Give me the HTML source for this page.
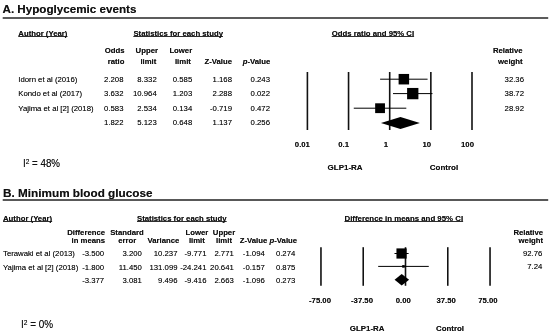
<!DOCTYPE html>
<html><head><meta charset="utf-8"><title>Forest plots</title>
<style>
html,body{margin:0;padding:0;background:#fff}
body{width:550px;height:335px;position:relative;overflow:hidden;font-family:"Liberation Sans",sans-serif;color:#111}
.t{position:absolute;white-space:nowrap;text-shadow:0 0 .6px rgba(0,0,0,.55)}
sup{font-size:68%;vertical-align:baseline;position:relative;top:-0.45em}
</style></head><body>
<svg width="550" height="335" viewBox="0 0 550 335" style="position:absolute;left:0;top:0">
<rect x="2.7" y="17" width="545.5" height="2" fill="#5c5c5c"/>
<rect x="2.7" y="199.15" width="545.5" height="1.7" fill="#3c3c3c"/>
<line x1="307.40" x2="307.40" y1="72" y2="130" stroke="#111" stroke-width="1.6"/>
<line x1="348.55" x2="348.55" y1="72" y2="130" stroke="#111" stroke-width="1.6"/>
<line x1="389.70" x2="389.70" y1="72" y2="130" stroke="#111" stroke-width="1.6"/>
<line x1="430.85" x2="430.85" y1="72" y2="130" stroke="#111" stroke-width="1.6"/>
<line x1="472.00" x2="472.00" y1="72" y2="130" stroke="#111" stroke-width="1.6"/>
<line x1="380.12" x2="427.59" y1="79.2" y2="79.2" stroke="#000" stroke-width="1"/>
<rect x="398.61" y="73.95" width="10.5" height="10.5" fill="#000"/>
<line x1="393.00" x2="432.49" y1="93.6" y2="93.6" stroke="#000" stroke-width="1"/>
<rect x="407.10" y="87.95" width="11.3" height="11.3" fill="#000"/>
<line x1="353.78" x2="406.32" y1="108.2" y2="108.2" stroke="#000" stroke-width="1"/>
<rect x="375.16" y="103.30" width="9.8" height="9.8" fill="#000"/>
<polygon points="380.95,123.1 400.42,117.1 419.90,123.1 400.42,129.1" fill="#000"/>
<line x1="320.96" x2="320.96" y1="247.2" y2="285.8" stroke="#111" stroke-width="1.6"/>
<line x1="363.23" x2="363.23" y1="247.2" y2="285.8" stroke="#111" stroke-width="1.6"/>
<line x1="405.50" x2="405.50" y1="247.2" y2="285.8" stroke="#111" stroke-width="1.6"/>
<line x1="447.77" x2="447.77" y1="247.2" y2="285.8" stroke="#111" stroke-width="1.6"/>
<line x1="490.04" x2="490.04" y1="247.2" y2="285.8" stroke="#111" stroke-width="1.6"/>
<line x1="394.49" x2="408.62" y1="253.5" y2="253.5" stroke="#000" stroke-width="1"/>
<rect x="396.45" y="248.40" width="10.2" height="10.2" fill="#000"/>
<line x1="378.18" x2="428.77" y1="266.4" y2="266.4" stroke="#000" stroke-width="1"/>
<rect x="402.17" y="265.10" width="2.6" height="2.6" fill="#000"/>
<polygon points="394.59,279.8 401.69,274.1 409.10,279.8 401.69,285.5" fill="#000"/>
</svg>
<div class="t" style="left:2.5px;top:0.6px;font-size:11.65px;font-weight:bold;line-height:16px;height:16px">A. Hypoglycemic events</div>
<div class="t" style="top:28.50px;height:10px;line-height:10px;font-size:7.75px;font-weight:bold;text-decoration:underline;text-decoration-skip-ink:none;text-decoration-thickness:1px;text-underline-offset:0px;text-decoration-color:rgba(0,0,0,.6);left:18.30px;">Author (Year)</div>
<div class="t" style="top:28.50px;height:10px;line-height:10px;font-size:7.75px;font-weight:bold;text-decoration:underline;text-decoration-skip-ink:none;text-decoration-thickness:1px;text-underline-offset:0px;text-decoration-color:rgba(0,0,0,.6);left:133.40px;">Statistics for each study</div>
<div class="t" style="top:28.50px;height:10px;line-height:10px;font-size:7.75px;font-weight:bold;text-decoration:underline;text-decoration-skip-ink:none;text-decoration-thickness:1px;text-underline-offset:0px;text-decoration-color:rgba(0,0,0,.6);left:331.80px;">Odds ratio and 95% CI</div>
<div class="t" style="top:46.00px;height:10px;line-height:10px;font-size:7.75px;font-weight:bold;right:425.50px;">Odds</div>
<div class="t" style="top:57.20px;height:10px;line-height:10px;font-size:7.75px;font-weight:bold;right:425.50px;">ratio</div>
<div class="t" style="top:46.00px;height:10px;line-height:10px;font-size:7.75px;font-weight:bold;right:392.00px;">Upper</div>
<div class="t" style="top:57.20px;height:10px;line-height:10px;font-size:7.75px;font-weight:bold;right:393.70px;">limit</div>
<div class="t" style="top:46.00px;height:10px;line-height:10px;font-size:7.75px;font-weight:bold;right:357.80px;">Lower</div>
<div class="t" style="top:57.20px;height:10px;line-height:10px;font-size:7.75px;font-weight:bold;right:359.10px;">limit</div>
<div class="t" style="top:57.20px;height:10px;line-height:10px;font-size:7.75px;font-weight:bold;right:318.00px;">Z-Value</div>
<div class="t" style="top:57.20px;height:10px;line-height:10px;font-size:7.75px;font-weight:bold;right:279.70px;"><i>p</i>-Value</div>
<div class="t" style="top:46.00px;height:10px;line-height:10px;font-size:7.75px;font-weight:bold;right:27.40px;">Relative</div>
<div class="t" style="top:57.20px;height:10px;line-height:10px;font-size:7.75px;font-weight:bold;right:27.40px;">weight</div>
<div class="t" style="top:74.70px;height:10px;line-height:10px;font-size:7.75px;left:18.30px;">Idorn et al (2016)</div>
<div class="t" style="top:74.70px;height:10px;line-height:10px;font-size:7.75px;right:426.50px;">2.208</div>
<div class="t" style="top:74.70px;height:10px;line-height:10px;font-size:7.75px;right:393.30px;">8.332</div>
<div class="t" style="top:74.70px;height:10px;line-height:10px;font-size:7.75px;right:357.80px;">0.585</div>
<div class="t" style="top:74.70px;height:10px;line-height:10px;font-size:7.75px;right:318.00px;">1.168</div>
<div class="t" style="top:74.70px;height:10px;line-height:10px;font-size:7.75px;right:280.00px;">0.243</div>
<div class="t" style="top:74.70px;height:10px;line-height:10px;font-size:7.75px;right:26.00px;">32.36</div>
<div class="t" style="top:89.20px;height:10px;line-height:10px;font-size:7.75px;left:18.30px;">Kondo et al (2017)</div>
<div class="t" style="top:89.20px;height:10px;line-height:10px;font-size:7.75px;right:426.50px;">3.632</div>
<div class="t" style="top:89.20px;height:10px;line-height:10px;font-size:7.75px;right:393.30px;">10.964</div>
<div class="t" style="top:89.20px;height:10px;line-height:10px;font-size:7.75px;right:357.80px;">1.203</div>
<div class="t" style="top:89.20px;height:10px;line-height:10px;font-size:7.75px;right:318.00px;">2.288</div>
<div class="t" style="top:89.20px;height:10px;line-height:10px;font-size:7.75px;right:280.00px;">0.022</div>
<div class="t" style="top:89.20px;height:10px;line-height:10px;font-size:7.75px;right:26.00px;">38.72</div>
<div class="t" style="top:103.70px;height:10px;line-height:10px;font-size:7.75px;left:18.30px;">Yajima et al [2] (2018)</div>
<div class="t" style="top:103.70px;height:10px;line-height:10px;font-size:7.75px;right:426.50px;">0.583</div>
<div class="t" style="top:103.70px;height:10px;line-height:10px;font-size:7.75px;right:393.30px;">2.534</div>
<div class="t" style="top:103.70px;height:10px;line-height:10px;font-size:7.75px;right:357.80px;">0.134</div>
<div class="t" style="top:103.70px;height:10px;line-height:10px;font-size:7.75px;right:318.00px;">-0.719</div>
<div class="t" style="top:103.70px;height:10px;line-height:10px;font-size:7.75px;right:280.00px;">0.472</div>
<div class="t" style="top:103.70px;height:10px;line-height:10px;font-size:7.75px;right:26.00px;">28.92</div>
<div class="t" style="top:118.20px;height:10px;line-height:10px;font-size:7.75px;right:426.50px;">1.822</div>
<div class="t" style="top:118.20px;height:10px;line-height:10px;font-size:7.75px;right:393.30px;">5.123</div>
<div class="t" style="top:118.20px;height:10px;line-height:10px;font-size:7.75px;right:357.80px;">0.648</div>
<div class="t" style="top:118.20px;height:10px;line-height:10px;font-size:7.75px;right:318.00px;">1.137</div>
<div class="t" style="top:118.20px;height:10px;line-height:10px;font-size:7.75px;right:280.00px;">0.256</div>
<div class="t" style="top:157.90px;height:10px;line-height:10px;font-size:10.6px;left:23.30px;transform:scaleX(.92);transform-origin:0 50%;height:14px;line-height:14px;margin-top:-2px;">I<sup>2</sup> = 48%</div>
<div class="t" style="top:140.00px;height:10px;line-height:10px;font-size:7.75px;font-weight:bold;left:202.40px;width:200px;text-align:center;">0.01</div>
<div class="t" style="top:140.00px;height:10px;line-height:10px;font-size:7.75px;font-weight:bold;left:243.60px;width:200px;text-align:center;">0.1</div>
<div class="t" style="top:140.00px;height:10px;line-height:10px;font-size:7.75px;font-weight:bold;left:285.90px;width:200px;text-align:center;">1</div>
<div class="t" style="top:140.00px;height:10px;line-height:10px;font-size:7.75px;font-weight:bold;left:326.80px;width:200px;text-align:center;">10</div>
<div class="t" style="top:140.00px;height:10px;line-height:10px;font-size:7.75px;font-weight:bold;left:367.50px;width:200px;text-align:center;">100</div>
<div class="t" style="top:162.60px;height:10px;line-height:10px;font-size:8px;font-weight:bold;left:245.10px;width:200px;text-align:center;">GLP1-RA</div>
<div class="t" style="top:162.60px;height:10px;line-height:10px;font-size:8px;font-weight:bold;left:344.00px;width:200px;text-align:center;">Control</div>
<div class="t" style="left:3px;top:184.7px;font-size:11.75px;font-weight:bold;line-height:16px;height:16px">B. Minimum blood glucose</div>
<div class="t" style="top:213.50px;height:10px;line-height:10px;font-size:7.75px;font-weight:bold;text-decoration:underline;text-decoration-skip-ink:none;text-decoration-thickness:1px;text-underline-offset:0px;text-decoration-color:rgba(0,0,0,.6);left:3.00px;">Author (Year)</div>
<div class="t" style="top:213.50px;height:10px;line-height:10px;font-size:7.75px;font-weight:bold;text-decoration:underline;text-decoration-skip-ink:none;text-decoration-thickness:1px;text-underline-offset:0px;text-decoration-color:rgba(0,0,0,.6);left:137.00px;">Statistics for each study</div>
<div class="t" style="top:213.50px;height:10px;line-height:10px;font-size:7.85px;font-weight:bold;text-decoration:underline;text-decoration-skip-ink:none;text-decoration-thickness:1px;text-underline-offset:0px;text-decoration-color:rgba(0,0,0,.6);left:344.50px;">Difference in means and 95% CI</div>
<div class="t" style="top:227.70px;height:10px;line-height:10px;font-size:7.75px;font-weight:bold;right:444.90px;">Difference</div>
<div class="t" style="top:235.90px;height:10px;line-height:10px;font-size:7.75px;font-weight:bold;right:444.90px;">in means</div>
<div class="t" style="top:227.70px;height:10px;line-height:10px;font-size:7.75px;font-weight:bold;left:27.00px;width:200px;text-align:center;">Standard</div>
<div class="t" style="top:235.90px;height:10px;line-height:10px;font-size:7.75px;font-weight:bold;left:27.30px;width:200px;text-align:center;">error</div>
<div class="t" style="top:235.90px;height:10px;line-height:10px;font-size:7.75px;font-weight:bold;right:370.70px;">Variance</div>
<div class="t" style="top:227.70px;height:10px;line-height:10px;font-size:7.75px;font-weight:bold;left:96.90px;width:200px;text-align:center;">Lower</div>
<div class="t" style="top:235.90px;height:10px;line-height:10px;font-size:7.75px;font-weight:bold;left:96.90px;width:200px;text-align:center;">limit</div>
<div class="t" style="top:227.70px;height:10px;line-height:10px;font-size:7.75px;font-weight:bold;left:124.00px;width:200px;text-align:center;">Upper</div>
<div class="t" style="top:235.90px;height:10px;line-height:10px;font-size:7.75px;font-weight:bold;left:124.00px;width:200px;text-align:center;">limit</div>
<div class="t" style="top:235.90px;height:10px;line-height:10px;font-size:7.75px;font-weight:bold;right:282.70px;">Z-Value</div>
<div class="t" style="top:235.90px;height:10px;line-height:10px;font-size:7.75px;font-weight:bold;right:252.90px;"><i>p</i>-Value</div>
<div class="t" style="top:227.70px;height:10px;line-height:10px;font-size:7.75px;font-weight:bold;right:6.90px;">Relative</div>
<div class="t" style="top:235.90px;height:10px;line-height:10px;font-size:7.75px;font-weight:bold;right:6.90px;">weight</div>
<div class="t" style="top:249.20px;height:10px;line-height:10px;font-size:7.75px;left:3.00px;">Terawaki et al (2013)</div>
<div class="t" style="top:249.20px;height:10px;line-height:10px;font-size:7.75px;right:445.90px;">-3.500</div>
<div class="t" style="top:249.20px;height:10px;line-height:10px;font-size:7.75px;right:408.10px;">3.200</div>
<div class="t" style="top:249.20px;height:10px;line-height:10px;font-size:7.75px;right:372.50px;">10.237</div>
<div class="t" style="top:249.20px;height:10px;line-height:10px;font-size:7.75px;right:343.50px;">-9.771</div>
<div class="t" style="top:249.20px;height:10px;line-height:10px;font-size:7.75px;right:316.20px;">2.771</div>
<div class="t" style="top:249.20px;height:10px;line-height:10px;font-size:7.75px;right:285.20px;">-1.094</div>
<div class="t" style="top:249.20px;height:10px;line-height:10px;font-size:7.75px;right:254.70px;">0.274</div>
<div class="t" style="top:248.70px;height:10px;line-height:10px;font-size:7.75px;right:7.70px;">92.76</div>
<div class="t" style="top:262.60px;height:10px;line-height:10px;font-size:7.75px;left:3.00px;">Yajima et al [2] (2018)</div>
<div class="t" style="top:262.60px;height:10px;line-height:10px;font-size:7.75px;right:445.90px;">-1.800</div>
<div class="t" style="top:262.60px;height:10px;line-height:10px;font-size:7.75px;right:408.10px;">11.450</div>
<div class="t" style="top:262.60px;height:10px;line-height:10px;font-size:7.75px;right:372.50px;">131.099</div>
<div class="t" style="top:262.60px;height:10px;line-height:10px;font-size:7.75px;right:343.50px;">-24.241</div>
<div class="t" style="top:262.60px;height:10px;line-height:10px;font-size:7.75px;right:316.20px;">20.641</div>
<div class="t" style="top:262.60px;height:10px;line-height:10px;font-size:7.75px;right:285.20px;">-0.157</div>
<div class="t" style="top:262.60px;height:10px;line-height:10px;font-size:7.75px;right:254.70px;">0.875</div>
<div class="t" style="top:261.60px;height:10px;line-height:10px;font-size:7.75px;right:7.70px;">7.24</div>
<div class="t" style="top:275.60px;height:10px;line-height:10px;font-size:7.75px;right:445.90px;">-3.377</div>
<div class="t" style="top:275.60px;height:10px;line-height:10px;font-size:7.75px;right:408.10px;">3.081</div>
<div class="t" style="top:275.60px;height:10px;line-height:10px;font-size:7.75px;right:372.50px;">9.496</div>
<div class="t" style="top:275.60px;height:10px;line-height:10px;font-size:7.75px;right:343.50px;">-9.416</div>
<div class="t" style="top:275.60px;height:10px;line-height:10px;font-size:7.75px;right:316.20px;">2.663</div>
<div class="t" style="top:275.60px;height:10px;line-height:10px;font-size:7.75px;right:285.20px;">-1.096</div>
<div class="t" style="top:275.60px;height:10px;line-height:10px;font-size:7.75px;right:254.70px;">0.273</div>
<div class="t" style="top:319.10px;height:10px;line-height:10px;font-size:11px;left:20.50px;transform:scaleX(.9);transform-origin:0 50%;height:14px;line-height:14px;margin-top:-2px;">I<sup>2</sup> = 0%</div>
<div class="t" style="top:296.30px;height:10px;line-height:10px;font-size:7.75px;font-weight:bold;left:220.00px;width:200px;text-align:center;">-75.00</div>
<div class="t" style="top:296.30px;height:10px;line-height:10px;font-size:7.75px;font-weight:bold;left:262.00px;width:200px;text-align:center;">-37.50</div>
<div class="t" style="top:296.30px;height:10px;line-height:10px;font-size:7.75px;font-weight:bold;left:303.30px;width:200px;text-align:center;">0.00</div>
<div class="t" style="top:296.30px;height:10px;line-height:10px;font-size:7.75px;font-weight:bold;left:346.20px;width:200px;text-align:center;">37.50</div>
<div class="t" style="top:296.30px;height:10px;line-height:10px;font-size:7.75px;font-weight:bold;left:387.90px;width:200px;text-align:center;">75.00</div>
<div class="t" style="top:324.30px;height:10px;line-height:10px;font-size:7.9px;font-weight:bold;left:349.80px;">GLP1-RA</div>
<div class="t" style="top:324.30px;height:10px;line-height:10px;font-size:7.9px;font-weight:bold;left:436.00px;">Control</div>
</body></html>
